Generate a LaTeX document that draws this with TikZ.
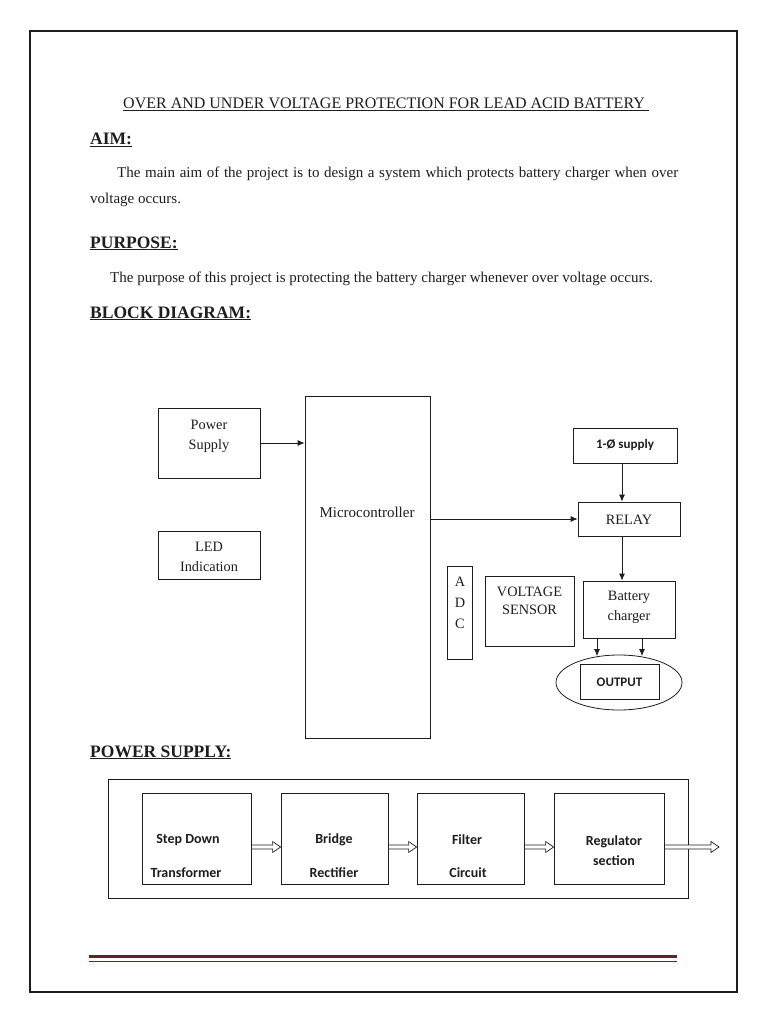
\documentclass[tikz,border=0pt]{standalone}
\usepackage{fontspec}
\setmainfont{Liberation Serif}
\newfontfamily\calib{Carlito}
\usetikzlibrary{shapes.geometric,arrows.meta,calc}
\definecolor{maroon}{RGB}{98,34,38}
\definecolor{ink}{RGB}{30,30,30}
\newcommand\hollowarrow[2]{%
  \draw[hollow] let \p1=(#1), \p2=(#2) in
   (\x1,\y1+2pt) -- (\x2-8pt,\y1+2pt) -- (\x2-8pt,\y1+5.5pt) -- (\x2,\y1)
   -- (\x2-8pt,\y1-5.5pt) -- (\x2-8pt,\y1-2pt) -- (\x1,\y1-2pt) -- cycle;}
\begin{document}
\begin{tikzpicture}[x=1pt,y=-1pt,
  box/.style={draw=ink, line width=0.8pt, inner sep=0pt},
  txt/.style={inner sep=0pt, align=center, font=\fontsize{14.3}{20}\selectfont, text=ink},
  sans/.style={inner sep=0pt, align=center, font=\calib\bfseries\fontsize{14}{20}\selectfont, text=ink},
  body/.style={inner sep=0pt, anchor=base west, font=\fontsize{15}{17}\selectfont, text=ink},
  head/.style={inner sep=0pt, anchor=base west, font=\bfseries\fontsize{17.5}{20}\selectfont, text=ink},
  arr/.style={draw=ink, line width=0.8pt, -{Latex[length=7pt,width=6pt]}},
  hollow/.style={draw=ink, line width=0.7pt, fill=white}]
\useasboundingbox (0,0) rectangle (768,1024);
\fill[white] (0,0) rectangle (768,1024);
\draw[line width=1.3pt, ink] (30,31) rectangle (737,992);

% texts
\node[inner sep=0pt, anchor=base west, font=\fontsize{16}{18}\selectfont, text=ink] (title) at (123,109)
  {\underline{OVER AND UNDER VOLTAGE PROTECTION FOR LEAD ACID BATTERY\ }};
\node[head] (aim) at (90,145) {\underline{AIM:}};
\node[body] (aimt1) at (117,178) {\makebox[561pt][s]{The main aim of the project is to design a system which protects battery charger when over}};
\node[body] (aimt2) at (90,204) {voltage occurs.};
\node[head] (purp) at (90,248) {\underline{PURPOSE:}};
\node[body] (purpt) at (110,282) {The purpose of this project is protecting the battery charger whenever over voltage occurs.};
\node[head] (bd) at (90,318) {\underline{BLOCK DIAGRAM:}};
\node[head] (psh) at (90,757) {\underline{POWER SUPPLY:}};

% block diagram
\node[box, minimum width=102, minimum height=70] (ps) at (209,443) {};
\node[txt] at (209,436) {Power\\Supply};
\node[box, minimum width=102, minimum height=48] (led) at (209,555) {};
\node[txt] at (209,557) {LED\\Indication};
\node[box, minimum width=125, minimum height=342] (mc) at (367.5,567) {};
\node[txt, font=\fontsize{15}{20}\selectfont] at (367,512) {Microcontroller};
\node[box, minimum width=104, minimum height=35] (sup) at (625,445.5) {};
\node[sans, font=\calib\bfseries\fontsize{13}{15}\selectfont] at (625,445) {1-Ø supply};
\node[box, minimum width=102, minimum height=34] (relay) at (629,519) {};
\node[txt] at (629,519.5) {RELAY};
\node[box, minimum width=25, minimum height=93] (adc) at (459.5,612.5) {};
\node[txt, font=\fontsize{14.3}{21}\selectfont] at (460,603) {A\\D\\C};
\node[box, minimum width=89, minimum height=70] (vs) at (529.5,611) {};
\node[txt, font=\fontsize{14.3}{18}\selectfont] at (529.5,601) {VOLTAGE\\SENSOR};
\node[box, minimum width=92, minimum height=57] (bc) at (629,609.5) {};
\node[txt] at (629,607) {Battery\\charger};
\node[draw=ink, line width=0.8pt, ellipse, minimum width=126, minimum height=55, inner sep=0pt] (ell) at (619,682.5) {};
\node[box, minimum width=79, minimum height=35] (outp) at (619.5,681.5) {};
\node[sans, font=\calib\bfseries\fontsize{13}{15}\selectfont] at (619.5,682) {OUTPUT};

\draw[arr] (ps.east) -- (mc.west |- ps.east);
\draw[arr] (mc.east |- relay.west) -- (relay.west);
\draw[arr] (sup.south -| 622,0) -- (relay.north -| 622,0);
\draw[arr] (relay.south -| 622,0) -- (bc.north -| 622,0);
\draw[arr] (bc.south -| 597,0) -- ($(ell.north -| 597,0)+(0,1.5)$);
\draw[arr] (bc.south -| 642,0) -- ($(ell.north -| 642,0)+(0,1.5)$);

% power supply
\node[box, minimum width=580, minimum height=119] (psframe) at (398,838.5) {};
\node[box, minimum width=109, minimum height=91] (sd) at (196.5,838.5) {};
\node[box, minimum width=107, minimum height=91] (br) at (334.5,838.5) {};
\node[box, minimum width=107, minimum height=91] (fc) at (470.5,838.5) {};
\node[box, minimum width=110, minimum height=91] (rs) at (609,838.5) {};
\node[sans] at (188,840) {Step Down};
\node[sans] at (186,873) {Transformer};
\node[sans] at (334,840) {Bridge};
\node[sans] at (334,873) {Rectifier};
\node[sans] at (467,840) {Filter};
\node[sans] at (468,873) {Circuit};
\node[sans] at (614,851) {Regulator\\section};
\coordinate (psout) at (719,847);

\hollowarrow{$(sd.east)+(0,8.5)$}{br.west}
\hollowarrow{$(br.east)+(0,8.5)$}{fc.west}
\hollowarrow{$(fc.east)+(0,8.5)$}{rs.west}
\hollowarrow{$(rs.east)+(0,8.5)$}{psout}

% footer rule
\draw[maroon, line width=3.8pt] (89,956.5) -- (677,956.5);
\draw[maroon, line width=1pt] (89,961) -- (677,961);
\end{tikzpicture}
\end{document}
